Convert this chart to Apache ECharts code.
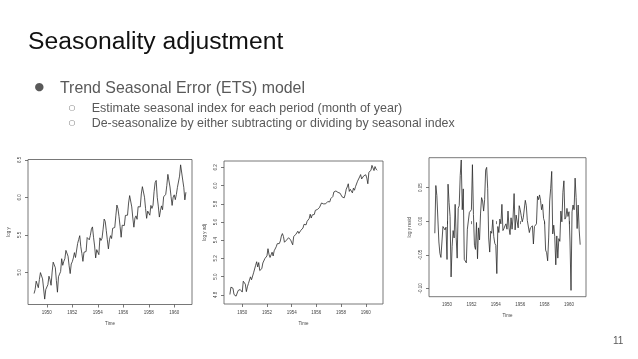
<!DOCTYPE html>
<html>
<head>
<meta charset="utf-8">
<script src="https://cdn.jsdelivr.net/npm/echarts@6/dist/echarts.min.js"></script>
<style>
html,body{margin:0;padding:0;background:#fff;}
#c{width:638px;height:359px;}
</style>
</head>
<body>
<div id="c"></div>
<script>
// ---- data (monthly, Jan 1949 - Dec 1960) ----
const startYear = 1949;
const logY = [
4.718,4.771,4.883,4.860,4.796,4.905,4.997,4.997,4.913,4.779,4.644,4.771,
4.745,4.836,4.949,4.905,4.828,5.004,5.136,5.136,5.063,4.890,4.736,4.942,
4.977,5.011,5.182,5.094,5.147,5.182,5.293,5.293,5.215,5.088,4.984,5.112,
5.142,5.193,5.263,5.198,5.209,5.384,5.438,5.489,5.342,5.252,5.147,5.268,
5.278,5.278,5.464,5.460,5.434,5.493,5.576,5.606,5.468,5.352,5.193,5.303,
5.318,5.236,5.460,5.425,5.455,5.576,5.710,5.680,5.557,5.434,5.313,5.434,
5.489,5.451,5.587,5.595,5.598,5.753,5.897,5.849,5.743,5.613,5.468,5.628,
5.649,5.624,5.759,5.746,5.762,5.924,6.023,6.004,5.872,5.724,5.602,5.724,
5.753,5.707,5.875,5.852,5.872,6.045,6.142,6.146,6.001,5.849,5.720,5.817,
5.829,5.762,5.892,5.852,5.894,6.075,6.196,6.225,6.001,5.883,5.737,5.820,
5.886,5.835,6.006,5.981,6.040,6.157,6.306,6.326,6.138,6.009,5.892,6.004,
6.033,5.969,6.038,6.133,6.157,6.282,6.433,6.407,6.230,6.133,5.966,6.068
];
const logYAdj = [
4.804,4.885,4.865,4.873,4.804,4.790,4.786,4.792,4.848,4.855,4.859,4.871,
4.831,4.950,4.931,4.918,4.836,4.889,4.925,4.931,4.998,4.966,4.951,5.042,
5.063,5.125,5.164,5.107,5.155,5.067,5.082,5.088,5.150,5.164,5.199,5.212,
5.228,5.307,5.245,5.211,5.217,5.269,5.227,5.284,5.277,5.328,5.362,5.368,
5.364,5.392,5.446,5.473,5.442,5.378,5.365,5.401,5.403,5.428,5.408,5.403,
5.404,5.350,5.442,5.438,5.463,5.461,5.499,5.475,5.492,5.510,5.528,5.534,
5.575,5.565,5.569,5.608,5.606,5.638,5.686,5.644,5.678,5.689,5.683,5.728,
5.735,5.738,5.741,5.759,5.770,5.809,5.812,5.799,5.807,5.800,5.817,5.824,
5.839,5.821,5.857,5.865,5.880,5.930,5.931,5.941,5.936,5.925,5.935,5.917,
5.915,5.876,5.874,5.865,5.902,5.960,5.985,6.020,5.936,5.959,5.952,5.920,
5.972,5.949,5.988,5.994,6.048,6.042,6.095,6.121,6.073,6.085,6.107,6.104,
6.119,6.083,6.020,6.146,6.165,6.167,6.222,6.202,6.165,6.209,6.181,6.168
];
const logYResid = [
-0.018,0.053,0.038,0.039,-0.031,-0.048,-0.054,-0.056,-0.008,-0.009,-0.013,-0.009,
-0.057,0.055,0.028,0.007,-0.083,-0.038,-0.014,-0.025,0.025,-0.024,-0.055,0.019,
0.023,0.068,0.091,0.017,0.048,-0.057,-0.056,-0.062,-0.012,-0.010,0.013,0.014,
0.017,0.084,0.010,-0.036,-0.042,-0.002,-0.056,-0.010,-0.028,0.012,0.035,0.030,
0.015,0.032,0.076,0.080,0.049,-0.025,-0.046,-0.015,-0.018,0.002,-0.023,-0.033,
-0.036,-0.078,-0.008,-0.017,0.003,-0.004,0.025,-0.014,-0.011,-0.007,-0.004,-0.012,
0.015,-0.010,-0.020,0.005,-0.012,0.006,0.041,-0.013,0.009,0.008,-0.010,0.023,
0.017,0.008,-0.001,0.005,0.004,0.031,0.023,0.001,-0.001,-0.017,-0.010,-0.012,
-0.007,-0.034,-0.008,-0.009,-0.004,0.037,0.032,0.039,0.031,0.017,0.025,0.004,
-0.001,-0.043,-0.047,-0.059,-0.025,0.030,0.049,0.074,-0.019,-0.006,-0.023,-0.065,
-0.022,-0.055,-0.026,-0.030,0.015,-0.001,0.043,0.060,0.003,0.006,0.019,0.007,
0.014,-0.031,-0.103,0.014,0.024,0.017,0.064,0.035,-0.011,0.024,-0.013,-0.035
];
const xTicks = [1950,1952,1954,1956,1958,1960];
const yTicks1 = [5.0,5.5,6.0,6.5];
const yTicks2 = [4.8,5.0,5.2,5.4,5.6,5.8,6.0,6.2];
const yTicks3 = [-0.10,-0.05,0.00,0.05];
const yNames = ['log y','log y adj','log y resid'];
const xName = 'Time';

// ---- layout ----
const FONT = 'Liberation Sans, Arial, sans-serif';
const AX = '#555';
const grids = [
  {left:28, top:159.5, width:164, height:145},
  {left:224, top:161, width:159, height:143},
  {left:429, top:157.7, width:157, height:139}
];
const yRanges = [[4.572,6.504],[4.70,6.27],[-0.1124,0.0944]];
const yTickSets = [yTicks1,yTicks2,yTicks3];
const yDec = [1,1,2];
const seriesData = [logY, logYAdj, logYResid];

function toPairs(arr){ return arr.map((v,i)=>[startYear + i/12, v]); }

const option = {
  animation:false,
  grid: grids.map(g=>Object.assign({show:true, borderColor:AX, borderWidth:0.8, backgroundColor:'transparent'}, g)),
  xAxis: grids.map((g,i)=>({
    type:'value', gridIndex:i, min:1948.523, max:1961.394,
    axisLine:{show:false},
    splitLine:{show:false},
    axisTick:{show:true, length:3, lineStyle:{color:AX,width:0.8}, customValues:xTicks},
    axisLabel:{fontSize:4.5, color:'#444', fontFamily:FONT, margin:6, customValues:xTicks, formatter:v=>String(v)},
    name:xName, nameLocation:'middle', nameGap:17,
    nameTextStyle:{fontSize:4.5, color:'#444', fontFamily:FONT}
  })),
  yAxis: grids.map((g,i)=>({
    type:'value', gridIndex:i, min:yRanges[i][0], max:yRanges[i][1],
    axisLine:{show:false},
    splitLine:{show:false},
    axisTick:{show:true, length:3, lineStyle:{color:AX,width:0.8}, customValues:yTickSets[i]},
    axisLabel:{fontSize:4.5, color:'#444', fontFamily:FONT, margin:6, rotate:90,
      customValues:yTickSets[i], formatter:v=>Number(v).toFixed(yDec[i])},
    name:yNames[i], nameLocation:'middle', nameGap:17, nameRotate:90,
    nameTextStyle:{fontSize:4.5, color:'#444', fontFamily:FONT}
  })),
  series: seriesData.map((d,i)=>({
    type:'line', xAxisIndex:i, yAxisIndex:i, data:toPairs(d),
    showSymbol:false, symbol:'none',
    lineStyle:{color:'#2a2a2a', width:0.8}
  })),
  graphic:[
    {type:'text', left:28, top:30, style:{text:'Seasonality adjustment', font:'24.7px '+FONT, fill:'#111'}},
    {type:'text', left:34.5, top:81.5, style:{text:'●', font:'11px DejaVu Sans', fill:'#595959'}},
    {type:'text', left:60, top:80.5, style:{text:'Trend Seasonal Error (ETS) model', font:'15.9px '+FONT, fill:'#595959'}},
    {type:'text', left:68.5, top:103.5, style:{text:'○', font:'8px DejaVu Sans', fill:'#777'}},
    {type:'text', left:91.7, top:102, style:{text:'Estimate seasonal index for each period (month of year)', font:'12.5px '+FONT, fill:'#595959'}},
    {type:'text', left:68.5, top:119, style:{text:'○', font:'8px DejaVu Sans', fill:'#777'}},
    {type:'text', left:91.7, top:117.5, style:{text:'De-seasonalize by either subtracting or dividing by seasonal index', font:'12.4px '+FONT, fill:'#595959'}},
    {type:'text', left:613, top:336, style:{text:'11', font:'10px '+FONT, fill:'#595959'}}
  ]
};
const chart = echarts.init(document.getElementById('c'), null, {renderer:'canvas'});
chart.setOption(option);
</script>
</body>
</html>
